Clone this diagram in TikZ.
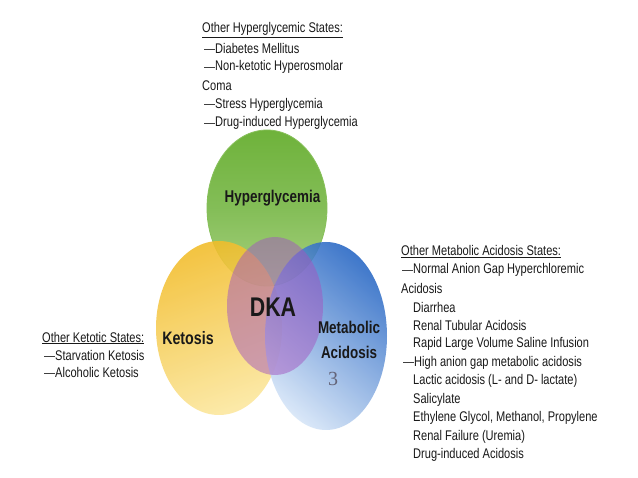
\documentclass[tikz,border=0pt]{standalone}
\usepackage{fontspec}
\setmainfont[FakeStretch=0.79]{Liberation Sans}
\newfontfamily\numfont{Liberation Serif}
\definecolor{txt}{RGB}{25,25,25}
\definecolor{gtop}{RGB}{110,178,58}
\definecolor{gbot}{RGB}{170,210,130}
\definecolor{gedge}{RGB}{135,192,90}
\definecolor{ytop}{RGB}{242,188,40}
\definecolor{ybot}{RGB}{252,232,160}
\definecolor{btop}{RGB}{35,100,195}
\definecolor{bbot}{RGB}{215,230,248}
\definecolor{dka}{RGB}{162,86,192}
\definecolor{numc}{RGB}{100,100,120}
\tikzset{
  lst/.style={anchor=west, inner sep=0pt, font=\fontsize{14}{14}\selectfont, text=txt},
  big/.style={inner sep=0pt, font=\fontsize{17}{25}\selectfont\bfseries, text=txt, align=center},
}
\newcommand{\dsh}{\textcolor{darkgray}{\rule[0.5ex]{0.75em}{0.6pt}}\kern0.5pt}
\begin{document}
\begin{tikzpicture}[x=1pt,y=-1pt]
\useasboundingbox (0,0) rectangle (638,478);
\fill[white] (0,0) rectangle (638,478);
% circles
\begin{scope}
  \clip (267,208) ellipse [x radius=60, y radius=78];
  \shade[top color=gtop, bottom color=gbot, middle color=gtop!85!white] (200,128) rectangle (330,290);
\end{scope}
\draw[gedge, line width=0.8pt] (267,208) ellipse [x radius=60, y radius=78];
\begin{scope}[fill opacity=0.88]
  \clip (219,328) ellipse [x radius=63, y radius=87];
  \shade[top color=ytop, bottom color=ybot, shading angle=20] (150,238) rectangle (290,420);
\end{scope}
\begin{scope}[fill opacity=0.88]
  \clip (326,336) ellipse [x radius=61, y radius=94];
  \shade[top color=btop, bottom color=bbot, shading angle=-40] (260,238) rectangle (392,434);
\end{scope}
\fill[dka, fill opacity=0.5] (275,306) ellipse [x radius=48, y radius=69];
% labels in circles
\node[big] (hyp) at (272.5,198) {Hyperglycemia};
\node[big, font=\fontsize{27}{27}\selectfont\bfseries] (dkal) at (273,307) {DKA};
\node[big, font=\fontsize{18}{18}\selectfont\bfseries] (ket) at (188,338) {Ketosis};
\node[big] (met) at (349,339.5) {Metabolic\\Acidosis};
\node[inner sep=0pt, font=\fontsize{20}{20}\numfont, text=numc] (num) at (333,379) {3};
% top block
\node[lst] (t0) at (202,30) {\underline{Other Hyperglycemic States:}};
\node[lst] (t1) at (204,48.5) {\dsh Diabetes Mellitus};
\node[lst] (t2) at (204,67.2) {\dsh Non-ketotic Hyperosmolar};
\node[lst] (t3) at (202,85.8) {Coma};
\node[lst] (t4) at (204,104.5) {\dsh Stress Hyperglycemia};
\node[lst] (t5) at (204,123.2) {\dsh Drug-induced Hyperglycemia};
% left block
\node[lst] (k0) at (42,338) {\underline{Other Ketotic States:}};
\node[lst] (k1) at (44,355) {\dsh Starvation Ketosis};
\node[lst] (k2) at (44,372) {\dsh Alcoholic Ketosis};
% right block
\node[lst] (m0) at (401,251.7) {\underline{Other Metabolic Acidosis States:}};
\node[lst] (m1) at (402,270.2) {\dsh Normal Anion Gap Hyperchloremic};
\node[lst] (m2) at (401,288.7) {Acidosis};
\node[lst] (m3) at (413,307.2) {Diarrhea};
\node[lst] (m4) at (413,325.7) {Renal Tubular Acidosis};
\node[lst] (m5) at (413,344.2) {Rapid Large Volume Saline Infusion};
\node[lst] (m6) at (403,362.7) {\dsh High anion gap metabolic acidosis};
\node[lst] (m7) at (413,381.2) {Lactic acidosis (L- and D- lactate)};
\node[lst] (m8) at (413,399.7) {Salicylate};
\node[lst] (m9) at (413,418.2) {Ethylene Glycol, Methanol, Propylene};
\node[lst] (m10) at (413,436.7) {Renal Failure (Uremia)};
\node[lst] (m11) at (413,455.2) {Drug-induced Acidosis};
\end{tikzpicture}
\end{document}
